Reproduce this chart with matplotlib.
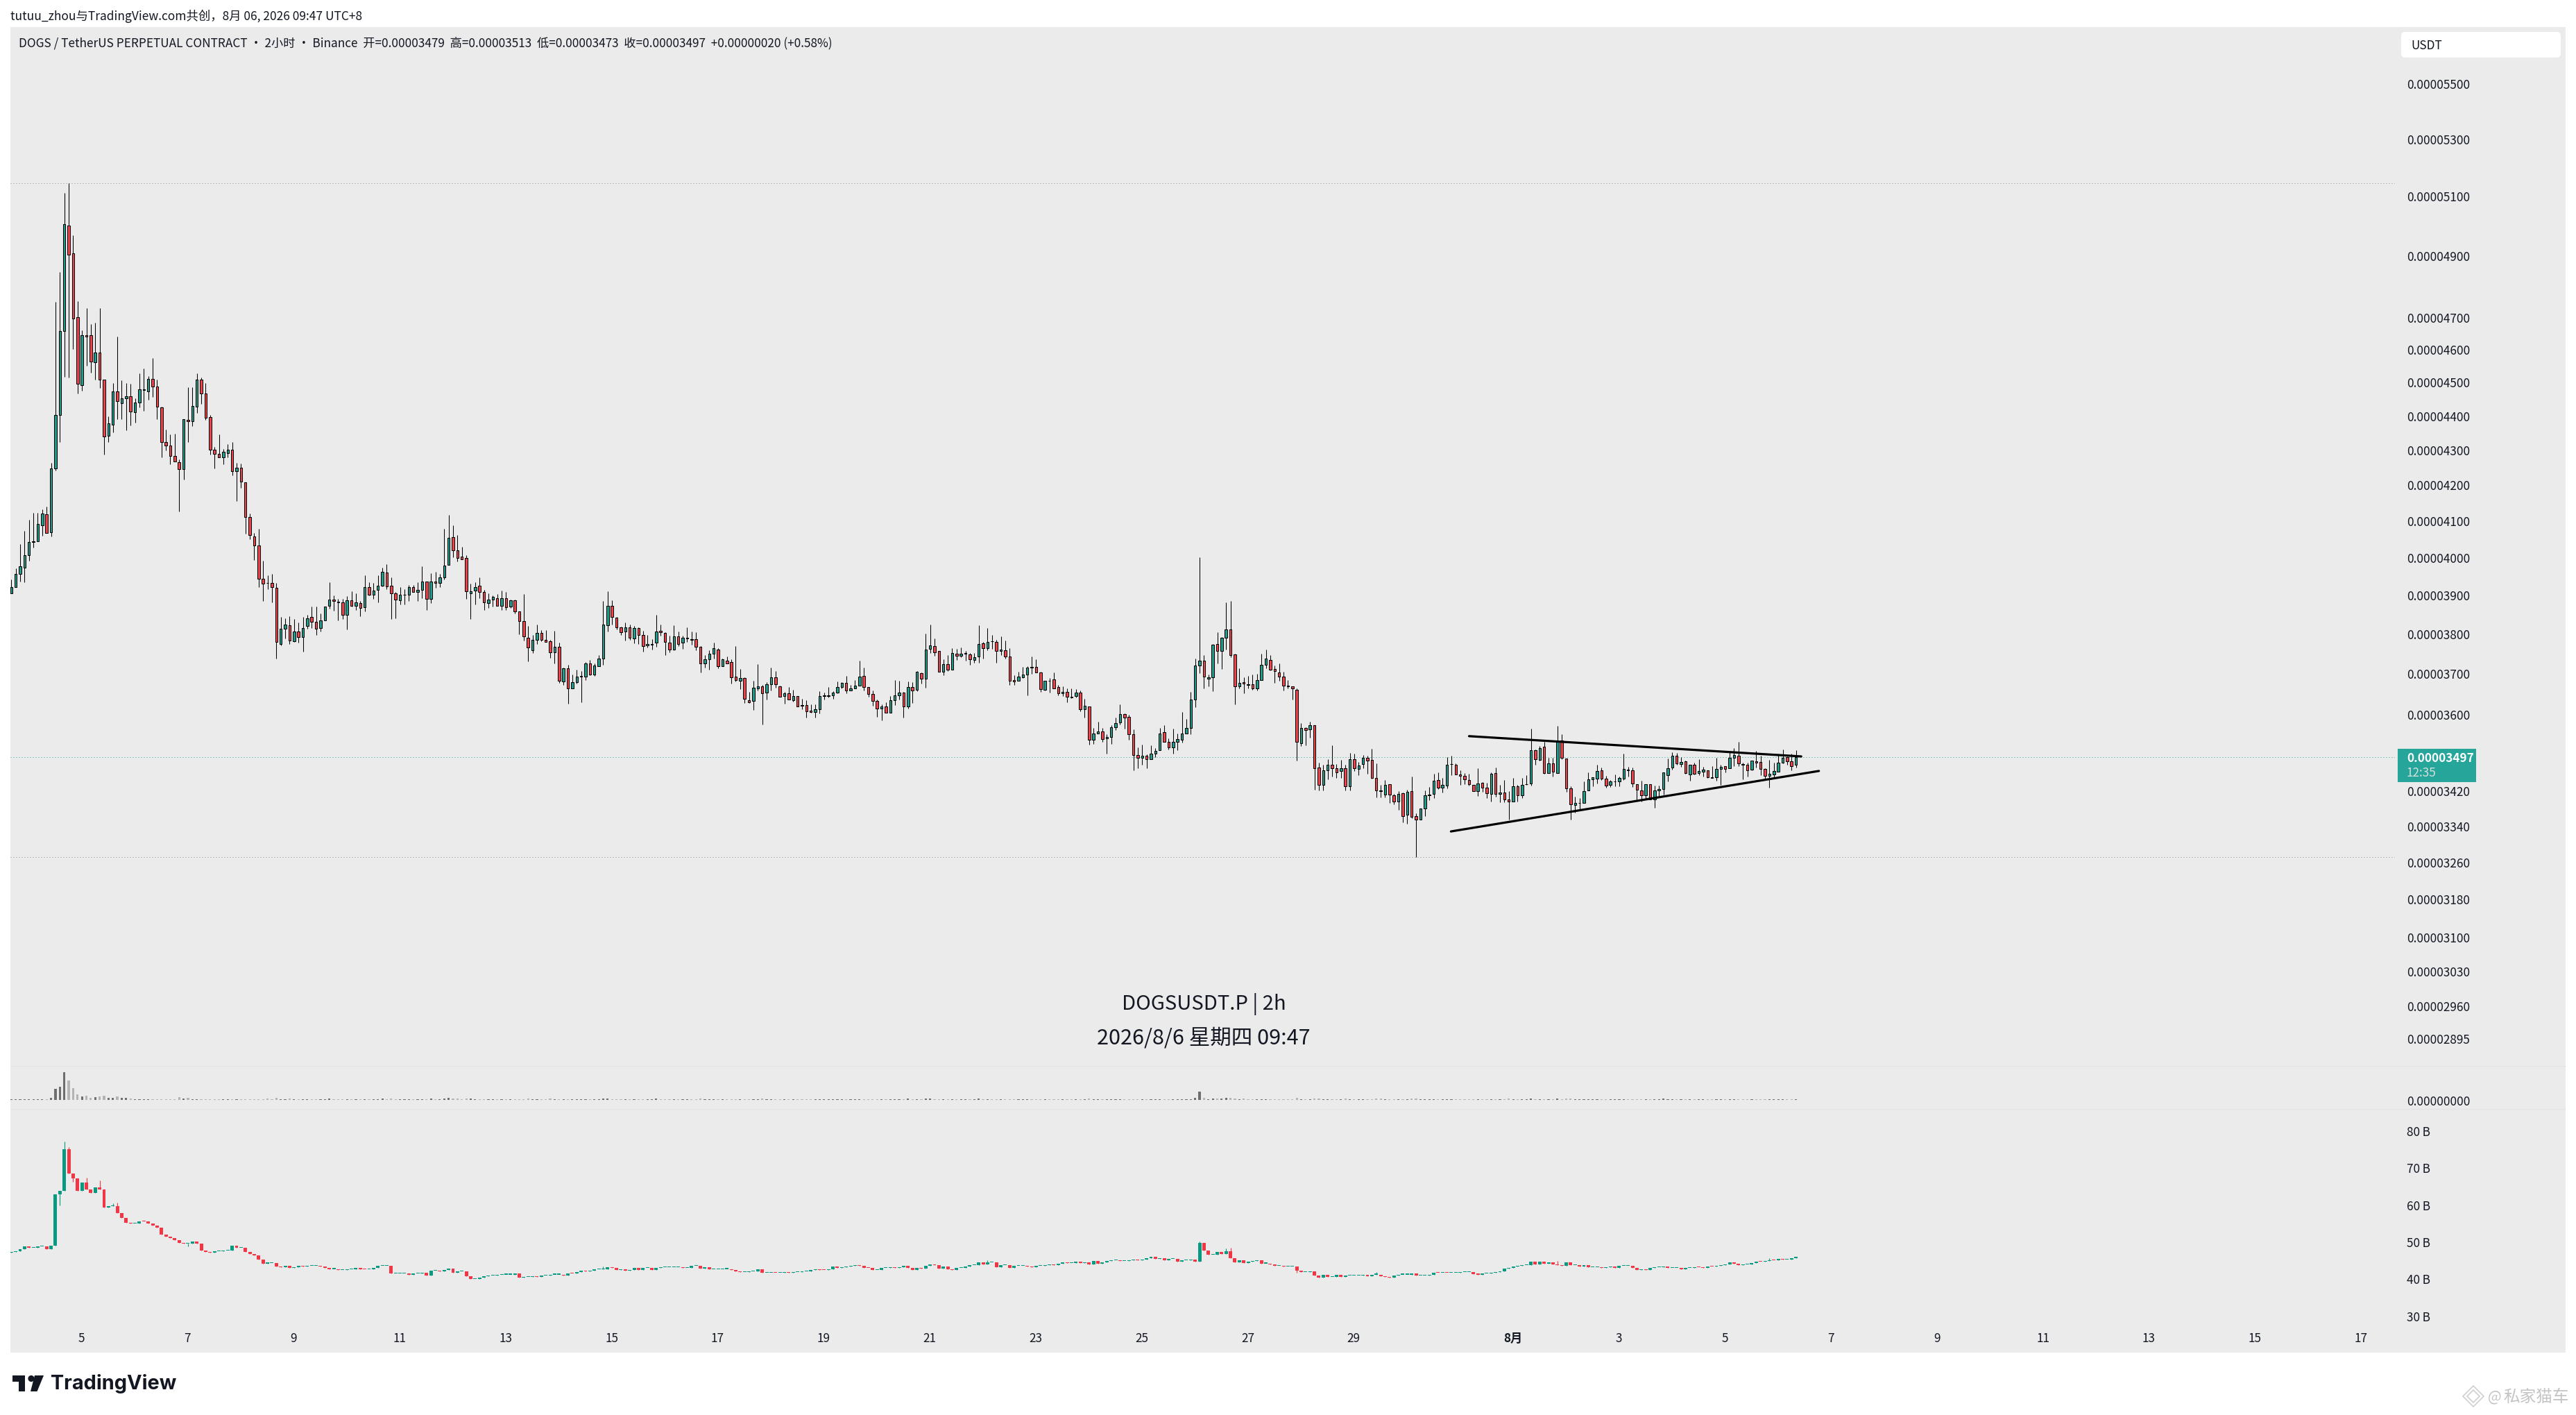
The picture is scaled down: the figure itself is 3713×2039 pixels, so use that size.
"""
DOGSUSDT.P 2h TradingView snapshot with open interest pane.
"""
import matplotlib
matplotlib.use('Agg')
import matplotlib.pyplot as plt
from matplotlib.patches import Rectangle, FancyBboxPatch, Polygon, Circle

plt.rcParams['font.family'] = ['Noto Sans CJK SC', 'DejaVu Sans']

W, H = 3713, 2040
C_UP = '#1F9E8E'; C_DOWN = '#F0424A'; C_PANEL = '#EBEBEB'; C_TXT = '#131722'
C_OI_UP = '#089981'; C_OI_DOWN = '#F23645'; C_LAST = '#26A69A'; C_DOT = '#8A8E96'

# prices in units of 1e-8 USDT
opens = [
    3904,3920,3956,3973,4005,4042,4044,4086,4118,4067, 4247,4401,4657,5000,4906,4700,4490,4644,4644,4561,
    4590,4507,4341,4373,4471,4436,4450,4457,4410,4438, 4475,4471,4509,4486,4424,4321,4311,4281,4263,4245,
    4387,4382,4426,4507,4466,4395,4300,4287,4278,4290, 4300,4239,4249,4207,4109,4057,4031,3942,3932,3932,
    3918,3774,3813,3822,3780,3805,3791,3820,3842,3830, 3814,3833,3871,3888,3883,3880,3848,3886,3871,3878,
    3868,3920,3900,3913,3925,3960,3925,3904,3886,3900, 3900,3920,3907,3913,3935,3889,3936,3931,3946,3979,
    4054,4018,4001,3999,3905,3911,3924,3907,3878,3887, 3891,3871,3891,3869,3886,3857,3832,3789,3758,3784,
    3802,3784,3781,3753,3766,3679,3712,3663,3678,3692, 3692,3724,3697,3717,3736,3822,3871,3841,3816,3805,
    3816,3788,3814,3796,3770,3772,3777,3807,3802,3777, 3760,3793,3777,3788,3786,3786,3766,3725,3735,3749,
    3760,3718,3732,3728,3692,3682,3688,3634,3632,3663, 3668,3652,3673,3690,3668,3644,3651,3634,3644,3622,
    3622,3609,3605,3612,3644,3644,3646,3652,3666,3676, 3657,3663,3670,3693,3666,3649,3632,3614,3619,3604,
    3634,3646,3652,3619,3666,3659,3700,3687,3761,3768, 3756,3704,3723,3709,3749,3744,3749,3747,3734,3742,
    3775,3763,3781,3779,3756,3758,3742,3683,3682,3690, 3697,3716,3716,3702,3659,3682,3685,3666,3650,3654,
    3643,3644,3652,3612,3618,3538,3554,3559,3541,3545, 3569,3580,3600,3593,3552,3503,3495,3500,3492,3505,
    3513,3556,3533,3521,3533,3538,3554,3566,3635,3719, 3731,3686,3690,3774,3756,3789,3810,3747,3667,3678,
    3673,3673,3662,3683,3721,3733,3711,3702,3691,3669, 3667,3660,3530,3566,3563,3573,3473,3432,3466,3479,
    3471,3465,3471,3429,3492,3470,3481,3496,3491,3449, 3420,3411,3434,3409,3394,3413,3364,3418,3361,3353,
    3379,3409,3412,3444,3426,3431,3481,3480,3457,3454, 3444,3433,3418,3437,3426,3412,3460,3412,3415,3399,
    3394,3429,3409,3434,3436,3514,3491,3522,3460,3483, 3460,3536,3494,3425,3387,3391,3392,3420,3445,3447,
    3467,3447,3433,3440,3441,3447,3468,3467,3434,3420, 3409,3434,3399,3420,3423,3456,3473,3501,3481,3488,
    3457,3480,3460,3464,3467,3450,3450,3470,3476,3472, 3496,3501,3481,3480,3468,3488,3486,3470,3454,3457,
    3464,3485,3497,3488,3479,
]
highs = [
    3941,3970,4035,4072,4102,4122,4121,4131,4138,4261, 4749,4844,5109,5142,4966,4752,4659,4730,4679,4682,
    4730,4507,4397,4497,4640,4506,4497,4494,4450,4526, 4542,4517,4572,4508,4426,4358,4345,4347,4272,4389,
    4485,4485,4526,4513,4497,4401,4307,4344,4302,4315, 4321,4261,4260,4207,4119,4065,4077,3991,3952,3955,
    3931,3843,3840,3845,3838,3828,3843,3849,3870,3869, 3851,3870,3934,3898,3890,3889,3897,3909,3904,3884,
    3951,3933,3931,3951,3973,3982,3946,3907,3920,3916, 3927,3927,3933,3975,3935,3958,3962,3955,4077,4115,
    4086,4061,4029,4005,3929,3933,3947,3913,3905,3898, 3902,3911,3907,3887,3887,3857,3902,3819,3796,3823,
    3809,3809,3784,3807,3777,3715,3722,3697,3709,3706, 3728,3733,3724,3745,3884,3909,3886,3842,3818,3828,
    3823,3819,3816,3807,3796,3786,3848,3823,3803,3795, 3821,3805,3795,3816,3805,3803,3768,3746,3758,3777,
    3763,3736,3742,3735,3768,3711,3690,3654,3682,3723, 3671,3678,3714,3706,3670,3654,3666,3659,3644,3637,
    3634,3624,3624,3656,3652,3666,3656,3680,3678,3693, 3671,3683,3732,3714,3666,3657,3636,3624,3629,3644,
    3683,3682,3654,3680,3678,3706,3702,3800,3823,3788, 3756,3735,3746,3763,3761,3765,3756,3751,3751,3821,
    3779,3814,3797,3784,3793,3783,3763,3695,3704,3716, 3718,3742,3735,3704,3682,3688,3702,3672,3667,3662,
    3662,3661,3658,3637,3618,3567,3581,3567,3552,3573, 3591,3623,3601,3598,3564,3521,3527,3504,3525,3519,
    3566,3574,3542,3565,3554,3605,3589,3654,3737,4000, 3745,3697,3774,3803,3792,3880,3884,3749,3712,3690,
    3693,3697,3698,3749,3759,3745,3719,3724,3704,3684, 3667,3662,3579,3569,3581,3574,3484,3479,3492,3525,
    3481,3491,3479,3507,3505,3486,3502,3501,3517,3483, 3433,3444,3434,3412,3419,3415,3421,3452,3368,3379,
    3420,3428,3458,3462,3449,3497,3501,3483,3466,3460, 3459,3433,3472,3439,3437,3462,3473,3433,3444,3419,
    3449,3433,3449,3456,3565,3516,3523,3534,3496,3496, 3572,3552,3494,3429,3406,3403,3441,3462,3450,3480,
    3473,3454,3444,3457,3452,3506,3475,3473,3434,3443, 3434,3434,3431,3431,3462,3494,3509,3507,3497,3489,
    3480,3485,3493,3475,3467,3477,3496,3480,3476,3511, 3519,3533,3485,3484,3489,3512,3500,3472,3491,3485,
    3506,3516,3499,3505,3513,
]
lows = [
    3904,3920,3936,3933,3990,4027,4044,4059,4065,4057, 4241,4323,4516,4514,4601,4466,4473,4550,4528,4507,
    4482,4285,4323,4350,4390,4390,4356,4370,4379,4424, 4414,4446,4455,4388,4278,4297,4257,4265,4125,4215,
    4321,4368,4408,4434,4387,4285,4247,4277,4257,4277, 4227,4155,4191,4064,4048,3992,3920,3884,3915,3880,
    3736,3770,3787,3773,3778,3777,3755,3812,3814,3796, 3805,3833,3864,3859,3833,3838,3810,3869,3860,3845,
    3858,3898,3890,3881,3923,3915,3837,3840,3876,3876, 3885,3907,3885,3892,3861,3879,3919,3921,3940,3979,
    4000,3989,3995,3890,3837,3876,3892,3861,3867,3869, 3871,3860,3861,3867,3851,3798,3782,3729,3750,3773,
    3780,3778,3738,3725,3677,3672,3625,3663,3675,3628, 3683,3695,3693,3717,3722,3806,3824,3810,3796,3782,
    3785,3776,3773,3755,3764,3759,3766,3794,3745,3752, 3758,3768,3761,3778,3771,3757,3702,3714,3709,3736,
    3712,3718,3725,3674,3679,3661,3627,3627,3610,3658, 3575,3635,3657,3664,3642,3625,3636,3630,3619,3612,
    3591,3603,3591,3601,3635,3640,3637,3650,3662,3650, 3657,3663,3670,3658,3642,3620,3593,3585,3604,3604,
    3622,3635,3591,3613,3627,3655,3674,3664,3750,3743, 3704,3695,3705,3709,3733,3740,3731,3721,3726,3726,
    3736,3757,3761,3726,3745,3736,3672,3672,3682,3688, 3645,3698,3702,3654,3657,3652,3663,3646,3644,3629,
    3639,3640,3606,3592,3527,3529,3553,3534,3506,3529, 3562,3575,3565,3539,3466,3472,3480,3471,3492,3498,
    3513,3534,3516,3506,3514,3532,3554,3552,3616,3700, 3662,3667,3655,3724,3710,3760,3741,3624,3663,3650,
    3663,3659,3658,3683,3712,3707,3677,3681,3657,3662, 3636,3490,3524,3525,3544,3422,3420,3420,3446,3452,
    3448,3448,3420,3420,3465,3455,3471,3458,3447,3404, 3404,3404,3392,3389,3375,3348,3345,3357,3270,3353,
    3361,3397,3403,3423,3415,3424,3455,3457,3432,3434, 3431,3418,3407,3417,3402,3395,3405,3393,3393,3354,
    3394,3395,3403,3433,3431,3479,3489,3458,3460,3452, 3460,3493,3416,3353,3369,3375,3392,3420,3429,3436,
    3444,3426,3428,3430,3429,3444,3452,3428,3400,3394, 3400,3399,3380,3406,3410,3441,3468,3479,3475,3458,
    3443,3457,3455,3452,3449,3448,3442,3433,3462,3472, 3477,3476,3446,3452,3466,3473,3456,3445,3426,3449,
    3464,3483,3480,3467,3473,
]
closes = [
    3920,3956,3975,4005,4042,4044,4090,4120,4065,4247, 4401,4657,5004,4903,4696,4494,4644,4639,4562,4590,
    4507,4338,4377,4471,4443,4450,4457,4412,4438,4478, 4478,4509,4486,4426,4321,4311,4281,4265,4245,4389,
    4382,4428,4507,4466,4394,4300,4287,4278,4293,4300, 4239,4249,4209,4109,4061,4031,3942,3929,3931,3920,
    3778,3812,3824,3782,3805,3792,3814,3839,3830,3812, 3833,3870,3888,3885,3881,3848,3886,3871,3880,3866,
    3920,3900,3911,3925,3962,3922,3905,3887,3900,3901, 3920,3907,3914,3935,3889,3936,3931,3947,3977,4052,
    4018,3999,3995,3909,3909,3920,3907,3880,3887,3895, 3871,3891,3868,3886,3857,3832,3793,3765,3784,3802,
    3784,3779,3753,3766,3681,3712,3663,3678,3692,3693, 3724,3697,3719,3736,3824,3871,3842,3816,3803,3816,
    3789,3814,3796,3768,3773,3773,3805,3803,3779,3760, 3793,3773,3789,3789,3785,3766,3724,3735,3749,3763,
    3718,3735,3725,3690,3683,3688,3637,3629,3664,3668, 3651,3673,3690,3673,3642,3651,3636,3644,3619,3621,
    3607,3605,3612,3644,3645,3646,3652,3666,3676,3657, 3663,3670,3692,3666,3649,3632,3614,3619,3604,3634,
    3646,3652,3619,3666,3657,3704,3687,3760,3770,3753, 3704,3723,3709,3751,3744,3749,3750,3735,3741,3774,
    3763,3779,3780,3756,3760,3742,3682,3680,3692,3697, 3714,3715,3702,3661,3682,3681,3663,3650,3654,3643,
    3640,3652,3612,3621,3538,3554,3559,3540,3545,3569, 3579,3600,3592,3552,3503,3496,3500,3492,3505,3512,
    3554,3534,3521,3533,3540,3554,3566,3635,3719,3731, 3691,3690,3772,3756,3789,3810,3745,3667,3676,3674,
    3672,3662,3684,3721,3737,3709,3705,3691,3669,3667, 3662,3533,3566,3561,3574,3471,3432,3466,3479,3471,
    3461,3471,3429,3492,3471,3478,3496,3489,3449,3420, 3419,3433,3410,3394,3412,3361,3417,3360,3353,3379,
    3409,3410,3442,3426,3433,3480,3481,3457,3454,3445, 3434,3418,3436,3426,3413,3458,3412,3415,3399,3394,
    3429,3409,3433,3434,3514,3493,3519,3460,3483,3464, 3534,3496,3425,3388,3392,3392,3418,3445,3450,3465,
    3447,3431,3441,3441,3449,3470,3467,3436,3421,3409, 3434,3399,3420,3423,3462,3472,3501,3483,3486,3460,
    3480,3458,3465,3468,3450,3449,3470,3475,3470,3496, 3502,3483,3480,3467,3489,3485,3470,3454,3458,3465,
    3485,3496,3488,3476,3497,
]

volumes = [
    3,3,4,4,4,3,2,2,3,8, 47,57,119,83,50,23,14,17,10,11,
    14,17,8,8,14,8,8,5,3,3, 4,4,4,4,3,3,4,4,11,5,
    8,3,3,3,3,3,3,3,3,4, 4,4,3,4,4,3,4,3,5,3,
    8,3,3,5,3,3,3,3,3,3, 3,3,5,3,3,3,3,3,3,3,
    3,3,3,3,5,3,5,3,3,3, 3,3,3,3,3,5,3,3,5,8,
    6,5,3,5,5,3,3,3,3,3, 3,3,3,3,3,3,3,5,3,3,
    3,3,5,3,3,3,3,3,3,3, 3,3,3,3,5,5,3,3,3,3,
    3,3,3,3,3,3,5,3,3,3, 3,3,3,3,3,3,5,3,3,3,
    3,3,3,3,3,3,3,3,3,3, 5,3,3,3,3,3,3,3,3,3,
    3,3,3,3,3,3,3,3,3,3, 3,3,3,3,3,3,3,3,3,3,
    3,3,3,5,3,3,3,5,5,3, 3,3,3,3,3,3,3,3,3,5,
    3,3,3,3,3,3,3,3,3,3, 3,3,3,3,3,3,3,3,3,3,
    3,3,3,3,5,3,3,3,3,3, 3,3,3,3,3,3,3,3,3,3,
    3,3,3,3,3,3,3,4,8,35, 8,2,5,5,5,8,8,5,3,5,
    3,3,3,3,3,3,3,3,3,3, 3,8,3,3,3,5,5,3,3,3,
    3,3,5,3,3,3,3,3,3,5, 5,3,3,3,3,3,3,5,5,3,
    3,3,3,3,3,3,3,3,3,3, 3,3,3,3,3,3,3,3,3,5,
    3,3,3,3,5,3,3,3,3,3, 5,3,5,5,3,3,3,3,3,3,
    3,3,3,3,3,3,3,3,3,3, 3,3,3,3,5,3,3,3,3,3,
    3,3,3,3,3,3,3,3,3,3, 3,3,3,3,3,3,3,3,3,3,
    3,3,3,3,3,
]

# open interest closes, in B
oi_close = [
    47.1,47.3,47.9,48.6,48.3,48.4,48.6,48.6,48.0,48.9, 62.8,63.7,75.0,68.4,67.1,63.7,65.9,64.0,63.1,64.6,
    64.1,59.1,59.5,59.6,57.6,56.3,55.1,54.9,54.9,55.5, 55.4,54.9,54.4,53.7,51.8,51.4,51.0,50.4,49.7,49.4,
    49.4,50.0,49.5,47.6,47.1,47.0,47.3,47.4,47.5,47.6, 48.9,48.3,48.3,47.1,46.7,46.3,45.2,44.1,44.2,44.2,
    43.3,43.1,43.4,42.9,43.1,43.4,43.2,43.4,43.4,43.4, 43.2,42.9,42.6,42.6,42.4,42.4,42.5,42.5,42.8,42.6,
    42.5,42.5,42.8,43.4,43.4,43.4,41.3,41.3,41.3,41.3, 41.1,41.3,41.3,41.6,40.9,42.1,42.1,41.9,42.3,42.7,
    41.6,41.9,41.9,40.7,39.8,39.8,40.3,40.6,40.8,40.8, 41.0,41.1,41.1,41.1,41.3,40.3,40.4,40.5,40.6,40.5,
    40.8,40.8,41.1,41.1,41.1,40.8,41.4,41.3,41.8,42.1, 42.0,42.1,42.5,42.5,42.5,43.1,42.9,42.3,42.6,42.2,
    42.4,42.9,42.3,42.9,42.9,42.3,42.9,43.0,43.0,43.0, 43.0,43.0,42.8,42.8,43.4,43.5,42.7,43.0,42.5,42.5,
    42.5,42.6,42.6,42.4,42.0,41.8,41.8,41.9,41.9,42.6, 41.6,41.6,41.6,41.5,41.5,41.8,41.6,41.7,41.7,41.9,
    41.9,42.3,42.5,42.4,42.3,42.5,43.2,42.8,43.1,43.2, 43.4,43.6,43.5,42.9,42.8,42.4,42.4,42.8,42.8,43.1,
    42.9,43.0,43.4,42.9,42.4,42.9,42.7,43.4,43.8,43.7, 42.7,43.2,42.5,42.3,42.8,42.8,43.2,43.6,43.6,44.3,
    43.9,44.3,44.3,43.1,43.6,43.6,42.9,43.4,43.4,43.4, 43.2,43.1,43.4,43.5,43.6,43.8,43.7,44.0,44.4,44.2,
    44.2,44.5,44.2,44.4,43.9,44.8,44.0,44.4,44.8,44.9, 44.9,44.7,44.7,44.9,45.1,45.0,45.1,45.5,45.9,45.3,
    45.6,45.0,45.3,45.3,44.6,44.9,44.9,45.1,44.6,49.6, 47.6,46.5,46.5,47.2,46.7,47.3,45.5,44.4,45.0,44.2,
    44.5,44.7,45.0,44.1,44.1,43.8,43.4,43.4,43.3,43.3, 43.3,42.1,41.8,41.8,41.9,40.9,40.3,41.0,40.5,40.5,
    41.0,40.5,40.8,40.8,40.8,40.8,41.0,40.7,41.1,41.1, 40.6,40.5,40.3,40.8,41.1,41.1,41.1,41.3,40.8,40.9,
    40.9,41.1,41.6,41.5,41.6,41.5,41.5,41.6,41.7,41.7, 41.7,41.2,41.1,41.3,41.3,41.6,41.8,41.9,42.7,42.9,
    43.2,43.4,43.6,43.6,44.6,43.8,44.5,44.0,44.4,43.8, 43.6,43.4,44.4,43.6,43.7,43.2,43.6,43.0,43.0,43.1,
    42.8,43.0,43.2,42.9,43.4,43.4,43.4,42.9,42.3,42.5, 42.3,42.9,43.1,43.1,43.2,42.8,42.8,42.8,42.6,42.8,
    42.9,43.1,43.0,42.8,43.3,43.2,43.5,43.6,43.8,44.4, 44.0,43.7,43.8,43.8,44.2,44.6,44.5,44.8,45.0,44.9,
    45.3,45.1,45.1,45.6,45.7,
]
oi_first_open = 47.0
# visible wicks on the open interest pane: bar -> value
oi_wick_high = {12: 77.0, 13: 75.5, 17: 67.3, 20: 66.4, 23: 60.3, 24: 60.5, 134: 43.3, 221: 45.0,
                269: 50.0, 275: 48.1, 276: 48.3, 309: 41.8, 350: 44.7, 398: 45.5}
oi_wick_low = {11: 59.7, 14: 66.1, 40: 48.6, 291: 41.6}

price_ticks = [5500, 5300, 5100, 4900, 4700, 4600, 4500, 4400, 4300, 4200, 4100, 4000, 3900, 3800,
               3700, 3600, 3420, 3340, 3260, 3180, 3100, 3030, 2960, 2895]
oi_ticks = [30, 40, 50, 60, 70, 80]
day_pos = [15.9, 39.9, 63.9, 87.9, 111.9, 135.9, 159.9, 183.9, 207.9, 231.9, 255.9, 279.9, 303.9,
           339.9, 363.9, 387.9, 411.9, 435.9, 459.9, 483.9, 507.9, 531.9]
day_labels = ['5', '7', '9', '11', '13', '15', '17', '19', '21', '23', '25', '27', '29',
              '8月', '3', '5', '7', '9', '11', '13', '15', '17']

# triangle drawn on the chart: (bar, price)
line_upper = ([330, 405.2], [3547, 3499])
line_lower = ([325.9, 409.2], [3327, 3465])

n = len(closes)
idx = list(range(n))
last_price = closes[-1]

def axes_rect(x0, x1, y0, y1):
    return [x0/W, 1 - y1/H, (x1-x0)/W, (y1-y0)/H]

fig = plt.figure(figsize=(W/100, H/100), dpi=100, facecolor='white')
fig.add_artist(Rectangle((15/W, 1-1950/H), (3698-15)/W, (1950-40)/H, transform=fig.transFigure,
                         facecolor=C_PANEL, edgecolor='none', zorder=-5))

XMIN, XMAX = -0.2, 539.6
DOTS = (0, (1, 3))

# main pane
ax = fig.add_axes(axes_rect(15, 3452, 40, 1537))
ax.patch.set_visible(False)
ax.set_yscale('log')
ax.set_xlim(XMIN, XMAX)
ax.set_ylim(2842, 5712)
body_col = [C_UP if c >= o else C_DOWN for o, c in zip(opens, closes)]
ax.vlines(idx, lows, highs, color='black', linewidth=0.75, zorder=3)
ax.bar(idx, [abs(c-o) for o, c in zip(opens, closes)], bottom=[min(o, c) for o, c in zip(opens, closes)],
       width=0.55, color=body_col, edgecolor='black', linewidth=0.75, zorder=4)
ax.axhline(max(highs), color=C_DOT, linestyle=DOTS, linewidth=0.72)
ax.axhline(min(lows), color=C_DOT, linestyle=DOTS, linewidth=0.72)
ax.axhline(last_price, color=C_LAST, linestyle=DOTS, linewidth=0.72)
ax.plot(*line_upper, color='black', linewidth=2.3, solid_capstyle='round', zorder=6)
ax.plot(*line_lower, color='black', linewidth=2.3, solid_capstyle='round', zorder=6)
ax.yaxis.tick_right()
ax.set_yticks(price_ticks)
ax.set_yticklabels([f'{t/1e8:.8f}' for t in price_ticks])
ax.minorticks_off()
ax.tick_params(axis='y', length=0, pad=12.2, labelsize=12.4, labelcolor=C_TXT, which='both')
ax.set_xticks([])
for s in ax.spines.values():
    s.set_visible(False)

# volume pane
axv = fig.add_axes(axes_rect(15, 3452, 1537, 1599))
axv.patch.set_visible(False)
axv.set_xlim(XMIN, XMAX)
axv.set_ylim(-39, 147)
vol_col = ['#6E6E6E' if c >= o else '#B4B4B4' for o, c in zip(opens, closes)]
axv.bar(idx, volumes, width=0.5, color=vol_col)
axv.yaxis.tick_right()
axv.set_yticks([0])
axv.set_yticklabels(['0.00000000'])
axv.tick_params(axis='y', length=0, pad=12.2, labelsize=12.4, labelcolor=C_TXT)
axv.set_xticks([])
for s in axv.spines.values():
    s.set_visible(False)

# open interest pane
axo = fig.add_axes(axes_rect(15, 3452, 1599, 1950))
axo.patch.set_visible(False)
axo.set_xlim(XMIN, XMAX)
axo.set_ylim(20.04, 85.77)
oi_open = [oi_first_open] + oi_close[:-1]
oi_col = [C_OI_UP if c >= o else C_OI_DOWN for o, c in zip(oi_open, oi_close)]
oi_hi = [oi_wick_high.get(i, max(o, c)) for i, (o, c) in enumerate(zip(oi_open, oi_close))]
oi_lo = [oi_wick_low.get(i, min(o, c)) for i, (o, c) in enumerate(zip(oi_open, oi_close))]
axo.vlines(idx, oi_lo, oi_hi, colors=oi_col, linewidth=0.8)
axo.bar(idx, [max(abs(c-o), 0.2) for o, c in zip(oi_open, oi_close)],
        bottom=[min(o, c) for o, c in zip(oi_open, oi_close)], width=0.78, color=oi_col)
axo.yaxis.tick_right()
axo.set_yticks(oi_ticks)
axo.set_yticklabels([f'{t}\u2009B' for t in oi_ticks])
axo.set_xticks(day_pos)
axo.set_xticklabels(day_labels)
axo.tick_params(axis='y', length=0, pad=12.2, labelsize=12.4, labelcolor=C_TXT)
axo.tick_params(axis='x', length=0, pad=-21.6, labelsize=12.4, labelcolor=C_TXT)
axo.get_xticklabels()[13].set_fontweight('bold')
for s in axo.spines.values():
    s.set_visible(False)

# overlay in pixel coordinates: boxes, captions, logo
deco = fig.add_axes([0, 0, 1, 1], zorder=10)
deco.set_xlim(0, W)
deco.set_ylim(H, 0)
deco.axis('off')
deco.hlines([1537, 1599], 15, 3698, color='#E3E4E8', linewidth=1.0)

deco.text(15, 23, 'tutuu_zhou与TradingView.com共创，8月 06, 2026 09:47 UTC+8', fontsize=12.5,
          color=C_TXT, va='center')
deco.text(27, 63, 'DOGS / TetherUS PERPETUAL CONTRACT · 2小时 · Binance  开=0.00003479  高=0.00003513  '
          '低=0.00003473  收=0.00003497  +0.00000020 (+0.58%)', fontsize=12.4, color=C_TXT, va='center')

deco.add_patch(FancyBboxPatch((3465, 51), 222, 29, boxstyle='round,pad=4,rounding_size=6',
                              facecolor='white', edgecolor='none'))
deco.text(3475, 66, 'USDT', fontsize=12.4, color=C_TXT, va='center')

deco.add_patch(Rectangle((3456, 1080), 113, 48, facecolor=C_LAST, edgecolor='none'))
deco.text(3469, 1093, '0.00003497', fontsize=12.4, color='white', va='center', fontweight='bold')
deco.text(3469, 1114, '12:35', fontsize=12.4, color='#D6DEDC', va='center')

deco.text(1735, 1447, 'DOGSUSDT.P | 2h', fontsize=21, color=C_TXT, ha='center', va='center')
deco.text(1735, 1496, '2026/8/6 星期四 09:47', fontsize=22, color=C_TXT, ha='center', va='center')

# TradingView mark
deco.add_patch(Polygon([(18, 1983), (36, 1983), (36, 2006), (27, 2006), (27, 1992), (18, 1992)],
                       facecolor='#131722', edgecolor='none'))
deco.add_patch(Circle((45, 1987.5), 4.6, facecolor='#131722', edgecolor='none'))
deco.add_patch(Polygon([(50, 1983), (63, 1983), (53.5, 2006), (44, 2006)], facecolor='#131722',
                       edgecolor='none'))
deco.text(73, 1994, 'TradingView', fontsize=20.8, color='#131722', va='center', fontweight='bold',
          family=['Inter', 'DejaVu Sans'])

# watermark
for r in (15, 9):
    deco.add_patch(Polygon([(3565-r, 2013), (3565, 2013-r), (3565+r, 2013), (3565, 2013+r)], fill=False,
                           edgecolor='#CFCFCF', linewidth=1.2))
deco.text(3586, 2013, '@', fontsize=15, color='#C4C4C4', va='center')
deco.text(3608, 2013, '私家猫车', fontsize=17, color='#C4C4C4', va='center')

fig.savefig('out.png', dpi=100)
plt.close()
print(n, len(volumes), len(oi_close))
